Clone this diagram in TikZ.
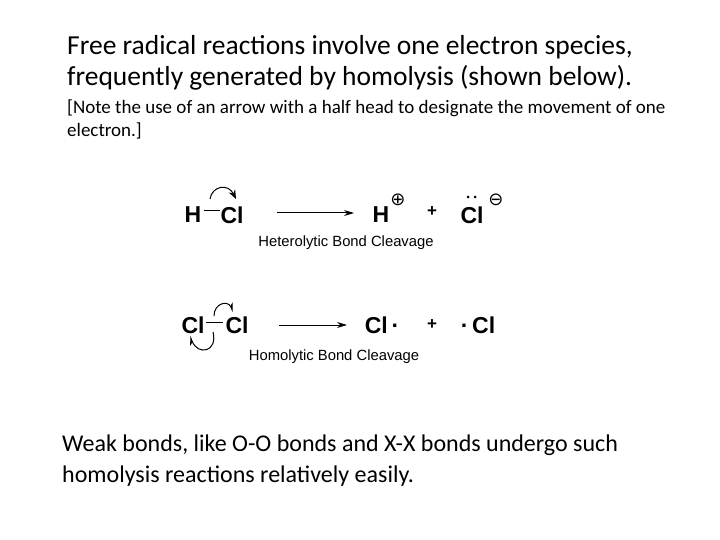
\documentclass[tikz,border=0pt]{standalone}
\usepackage{fontspec}
\setmainfont{Carlito}
\newfontfamily\chem{Liberation Sans}
\newfontfamily\djfont{DejaVu Sans}
\usetikzlibrary{arrows.meta}
\begin{document}
\begin{tikzpicture}[x=1pt,y=-1pt,
  txt/.style={anchor=west,inner sep=0pt,font=\fontsize{27.5}{32}\selectfont},
  note/.style={anchor=west,inner sep=0pt,font=\fontsize{19}{22}\selectfont},
  bot/.style={anchor=west,inner sep=0pt,font=\fontsize{24}{28}\selectfont},
  atom/.style={inner sep=0pt,font=\chem\bfseries\fontsize{23}{26}\selectfont},
  lab/.style={inner sep=0pt,font=\chem\fontsize{14.8}{17}\selectfont},
  rxn/.style={-{Stealth[length=10pt,width=6pt]},line width=1pt},
  half/.style={-{Stealth[length=8pt,width=7pt,left]},line width=1pt}]
\useasboundingbox (0,0) rectangle (720,540);
\node[txt] (t1) at (67,47) {Free radical reactions involve one electron species,};
\node[txt] (t2) at (67,78) {frequently generated by homolysis (shown below).};
\node[note] (n1) at (67,108) {[Note the use of an arrow with a half head to designate the movement of one};
\node[note] (n2) at (67,131) {electron.]};
% heterolytic
\node[atom] (h1) at (193,215) {H};
\node[atom] (c1) at (232,215) {Cl};
\draw[line width=1pt] (204,211) -- (220,211);
\draw[-{Stealth[length=9pt,width=7pt]},line width=1pt] (210,199) .. controls (212,186) and (228,183) .. (236,199);
\coordinate (a1s) at (277,213); \coordinate (a1e) at (354,213);
\draw[rxn] (a1s) -- (a1e);
\node[atom] (h2) at (381,215) {H};
\node[inner sep=0pt,font=\djfont\fontsize{18}{20}\selectfont] (pl) at (398,200) {⊕};
\node[atom,font=\chem\bfseries\fontsize{17}{20}\selectfont] (p1) at (432,212) {+};
\node[atom] (c2) at (472,215) {Cl};
\fill (468,197) circle (1.5pt) (475,197) circle (1.5pt);
\node[inner sep=0pt,font=\djfont\fontsize{18}{20}\selectfont] (mi) at (496,200) {⊖};
\node[lab] (l1) at (346,243) {Heterolytic Bond Cleavage};
% homolytic
\node[atom] (c3) at (193,325) {Cl};
\node[atom] (c4) at (237,325) {Cl};
\draw[line width=1pt] (206,322) -- (223,322);
\draw[half] (214,316) .. controls (214,303) and (228,300) .. (233,312);
\draw[half] (213,332) .. controls (218,352) and (198,356) .. (190,336);
\coordinate (a2s) at (279,325); \coordinate (a2e) at (347,325);
\draw[rxn] (a2s) -- (a2e);
\node[atom] (r1) at (382,325) {Cl\,·};
\node[atom,font=\chem\bfseries\fontsize{17}{20}\selectfont] (p2) at (432,325) {+};
\node[atom] (r2) at (478,325) {·\,Cl};
\node[lab] (l2) at (334,357) {Homolytic Bond Cleavage};
\node[bot] (b1) at (62,445) {Weak bonds, like O-O bonds and X-X bonds undergo such};
\node[bot] (b2) at (62,476) {homolysis reactions relatively easily.};
\end{tikzpicture}
\end{document}
